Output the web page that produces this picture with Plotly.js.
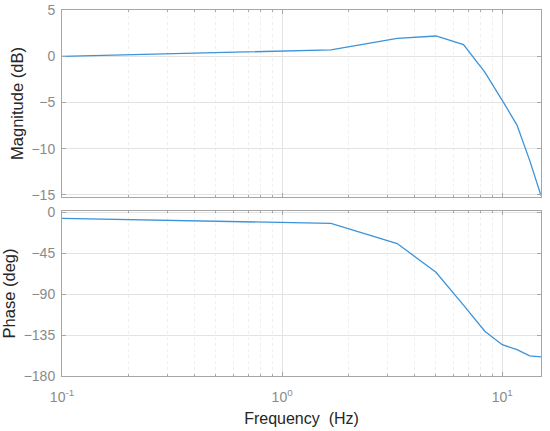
<!DOCTYPE html>
<html>
<head>
<meta charset="utf-8">
<script src="https://cdn.plot.ly/plotly-3.0.1.min.js"></script>
<style>html,body{margin:0;padding:0;background:#fff;}#chart{width:550px;height:431px;}</style>
</head>
<body>
<div id="chart"></div>
<script>
// Data
const freqHz = [0.1, 1.6667, 3.3333, 5, 6.6667, 8.3333, 10, 11.6667, 13.3333, 15];
const magnitudeDb = [0.02, 0.72, 1.97, 2.23, 1.29, -1.69, -4.75, -7.44, -11.3, -15.1];
const phaseDeg = [-6.7, -12.2, -34.4, -65.9, -102, -130.8, -145.6, -151, -157.8, -158.9];
const xTickVals = [0.1, 1, 10];
const xTickText = ['10<sup>-1</sup>', '10<sup>0</sup>', '10<sup>1</sup>'];
const magTicks = [-15, -10, -5, 0, 5];
const phaseTicks = [-180, -135, -90, -45, 0];

const lineColor = '#3d93d8';
const axisColor = '#a6a6a6';
const tickFontColor = '#8a8a8a';
const titleColor = '#262626';
const fontFam = 'Liberation Sans, Arial, Helvetica, sans-serif';

const xCommon = {
  type: 'log',
  range: [Math.log10(0.1), Math.log10(15)],
  tickvals: xTickVals,
  ticktext: xTickText,
  ticks: 'inside',
  ticklen: 4,
  tickcolor: axisColor,
  showline: true,
  linecolor: axisColor,
  linewidth: 1,
  mirror: 'ticks',
  showgrid: true,
  gridcolor: '#e3e3e3',
  gridwidth: 1,
  zeroline: false,
  tickfont: {family: fontFam, size: 14, color: tickFontColor},
  minor: {
    dtick: 'D1',
    ticks: 'inside',
    ticklen: 2,
    tickcolor: axisColor,
    showgrid: true,
    gridcolor: '#efefef',
    griddash: 'dot',
    gridwidth: 1
  }
};

const yCommon = {
  ticks: 'inside',
  ticklen: 4,
  tickcolor: axisColor,
  showline: true,
  linecolor: axisColor,
  linewidth: 1,
  mirror: 'ticks',
  showgrid: true,
  gridcolor: '#e3e3e3',
  zeroline: false,
  ticklabelstandoff: 3,
  tickfont: {family: fontFam, size: 14, color: tickFontColor}
};

const traces = [
  {x: freqHz, y: magnitudeDb, xaxis: 'x', yaxis: 'y', type: 'scatter', mode: 'lines',
   line: {color: lineColor, width: 1.3}, hoverinfo: 'skip'},
  {x: freqHz, y: phaseDeg, xaxis: 'x2', yaxis: 'y2', type: 'scatter', mode: 'lines',
   line: {color: lineColor, width: 1.3}, hoverinfo: 'skip'}
];

const layout = {
  width: 550, height: 431,
  margin: {l: 62, r: 9, t: 10, b: 55},
  paper_bgcolor: '#ffffff',
  plot_bgcolor: '#ffffff',
  showlegend: false,
  font: {family: fontFam},
  xaxis: Object.assign({}, xCommon, {domain: [0, 1], anchor: 'y', showticklabels: false}),
  yaxis: Object.assign({}, yCommon, {
    domain: [0.489, 1], anchor: 'x', range: [-15.25, 5.05], tickvals: magTicks,
    title: {text: 'Magnitude (dB)', font: {family: fontFam, size: 16.5, color: titleColor}, standoff: 3}
  }),
  xaxis2: Object.assign({}, xCommon, {
    domain: [0, 1], anchor: 'y2', ticklabelstandoff: 8,
    title: {text: 'Frequency  (Hz)', font: {family: fontFam, size: 16, color: titleColor}, standoff: 9}
  }),
  yaxis2: Object.assign({}, yCommon, {
    domain: [0, 0.451], anchor: 'x2', range: [-180, 1.5], tickvals: phaseTicks,
    title: {text: 'Phase (deg)', font: {family: fontFam, size: 16.5, color: titleColor}, standoff: 3}
  })
};

Plotly.newPlot('chart', traces, layout, {displayModeBar: false, staticPlot: true});
</script>
</body>
</html>
